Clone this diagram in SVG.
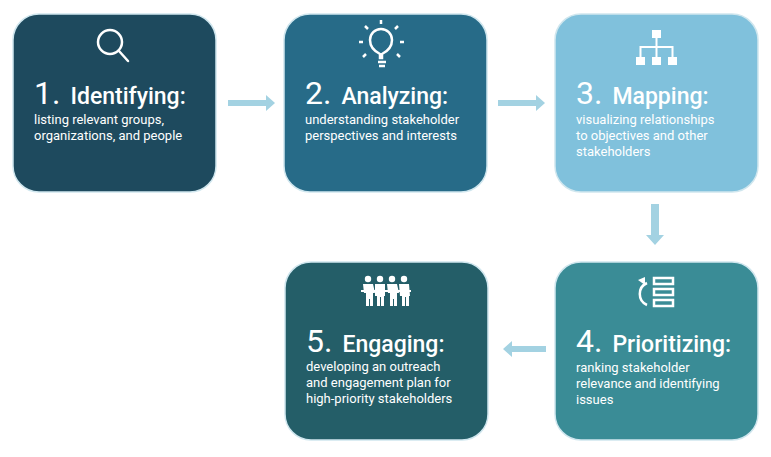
<svg xmlns="http://www.w3.org/2000/svg" width="771" height="457" viewBox="0 0 771 457">
<style>
.box{stroke:#cfe6ee;stroke-width:1.5}
.t{font-family:Roboto,"Liberation Sans",sans-serif;fill:#fff}
.n{font-size:32px}
.h{font-size:23px;font-weight:500}
.b{font-size:13px}
.ic{fill:none;stroke:#fff;stroke-width:2.5}
.arr{fill:#a3d2e2}
</style>
<rect width="771" height="457" fill="#fff"/>
<g id="n1">
<rect class="box" x="13" y="14" width="203" height="178" rx="26" fill="#1e4a5e"/>
<circle class="ic" cx="110" cy="42" r="12" stroke-width="3"/><line class="ic" x1="119" y1="51" x2="128" y2="61" stroke-width="4.5" stroke-linecap="round"/>
<text class="t" x="34" y="104"><tspan class="n">1.</tspan><tspan class="h" dx="10">Identifying:</tspan></text>
<text class="t b" x="34" y="124">listing relevant groups,</text>
<text class="t b" x="34" y="140">organizations, and people</text>
</g>
<g id="n2">
<rect class="box" x="284" y="14" width="203" height="178" rx="26" fill="#276b88"/>
<path class="ic" d="M380 58 v-4 c-8-4-10-9-10-14 a11 11 0 0 1 22 0 c0 5-2 10-10 14 v4 z" stroke-width="2"/>
<path class="ic" d="M378 62 h8 M379 66 h6" stroke-width="2"/>
<path class="ic" d="M381 24 v-4 M368 29 l-3-3 M395 29 l3-3 M363 42 h-4 M400 42 h4 M366 54 l-3 3 M397 54 l3 3" stroke-width="2"/>
<text class="t" x="305" y="104"><tspan class="n">2.</tspan><tspan class="h" dx="10">Analyzing:</tspan></text>
<text class="t b" x="305" y="124">understanding stakeholder</text>
<text class="t b" x="305" y="140">perspectives and interests</text>
</g>
<g id="n3">
<rect class="box" x="555" y="14" width="203" height="178" rx="26" fill="#80c1dc"/>
<g fill="#fff"><rect x="652" y="30" width="9" height="8"/><rect x="636" y="57" width="9" height="8"/><rect x="652" y="57" width="9" height="8"/><rect x="668" y="57" width="9" height="8"/></g>
<path d="M656.5 38 v19 M640.5 57 v-10 h32 v10" stroke="#fff" stroke-width="2" fill="none"/>
<text class="t" x="576" y="104"><tspan class="n">3.</tspan><tspan class="h" dx="10">Mapping:</tspan></text>
<text class="t b" x="576" y="124">visualizing relationships</text>
<text class="t b" x="576" y="140">to objectives and other</text>
<text class="t b" x="576" y="156">stakeholders</text>
</g>
<g id="n4">
<rect class="box" x="555" y="262" width="203" height="178" rx="26" fill="#3a8c96"/>
<path class="ic" d="M647 305 a12 12 0 0 1 0 -22" stroke-width="2"/>
<path d="M638 280 l7 -3 l0 8 z" fill="#fff"/>
<g class="ic" stroke-width="2"><rect x="654" y="278" width="19" height="6"/><rect x="654" y="289" width="19" height="6"/><rect x="654" y="300" width="19" height="6"/></g>
<text class="t" x="576" y="352"><tspan class="n">4.</tspan><tspan class="h" dx="10">Prioritizing:</tspan></text>
<text class="t b" x="576" y="372">ranking stakeholder</text>
<text class="t b" x="576" y="388">relevance and identifying</text>
<text class="t b" x="576" y="404">issues</text>
</g>
<g id="n5">
<rect class="box" x="285" y="262" width="203" height="178" rx="26" fill="#245e68"/>
<g fill="#fff">
<circle cx="368" cy="279" r="3.2"/><circle cx="380" cy="279" r="3.2"/><circle cx="392" cy="279" r="3.2"/><circle cx="404" cy="279" r="3.2"/>
<path d="M363 284 h10 l2 9 h-2 v13 h-3 v-7 h-1 v7 h-3 v-13 h-2 z"/>
<path d="M375 284 h10 v12 h-1 v10 h-3 v-9 h-1 v9 h-3 v-10 h-2 z"/>
<path d="M387 284 h10 l2 9 h-2 v13 h-3 v-7 h-1 v7 h-3 v-13 h-2 z"/>
<path d="M399 284 h10 l1 12 h-1 v10 h-3 v-9 h-1 v9 h-3 v-10 h-2 z"/>
<rect x="361" y="290" width="50" height="2"/>
</g>
<text class="t" x="306" y="352"><tspan class="n">5.</tspan><tspan class="h" dx="10">Engaging:</tspan></text>
<text class="t b" x="306" y="371">developing an outreach</text>
<text class="t b" x="306" y="387">and engagement plan for</text>
<text class="t b" x="306" y="403">high-priority stakeholders</text>
</g>
<g id="connectors" class="arr">
<path d="M228 100 h38 v-5 l9 8 l-9 8 v-5 h-38 z"/>
<path d="M498 100 h38 v-5 l9 8 l-9 8 v-5 h-38 z"/>
<path d="M651 204 v31 h-5 l9 10 l9 -10 h-5 v-31 z"/>
<path d="M546 346 h-34 v-5 l-9 8 l9 8 v-5 h34 z"/>
</g>
</svg>
